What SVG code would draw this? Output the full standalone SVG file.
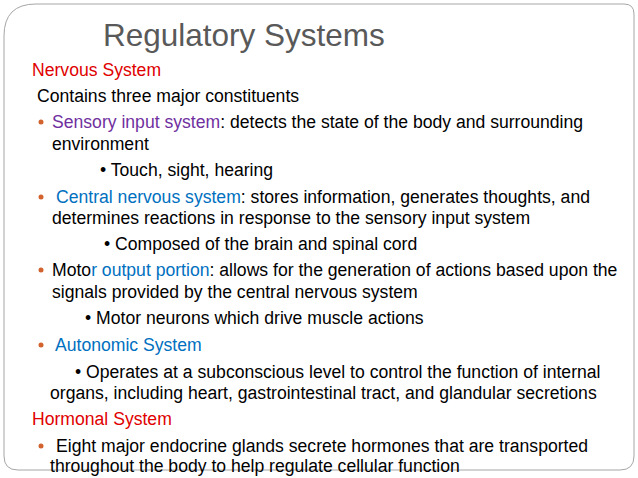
<svg xmlns="http://www.w3.org/2000/svg" width="638" height="478" viewBox="0 0 638 478">
<style>
text{font-family:"Liberation Sans",Arial,sans-serif;font-size:17.6px;fill:#000}
.r{fill:#e00000}.p{fill:#7030a0}.b{fill:#0070c0}
.t{font-size:31.5px;fill:#595959}
.d{fill:#d2622e}
</style>
<rect width="638" height="478" fill="#fff"/>
<path d="M36 4 H624 Q634 4 634 14 V456 Q634 470 620 470 H18 Q4 470 4 456 V36 Q4 4 36 4 Z" fill="none" stroke="#a6a6a6" stroke-width="1"/>
<g id="title"><text class="t" x="103" y="46">Regulatory Systems</text></g>
<g id="bullets">
<circle class="d" cx="41" cy="122" r="2.5"/>
<circle class="d" cx="41" cy="197" r="2.5"/>
<circle class="d" cx="41" cy="270" r="2.5"/>
<circle class="d" cx="41" cy="345" r="2.5"/>
<circle class="d" cx="41" cy="446" r="2.5"/>
</g>
<g id="body">
<text class="r" x="32" y="76">Nervous System</text>
<text x="37" y="102">Contains three major constituents</text>
<text x="52" y="128"><tspan class="p">Sensory input system</tspan>: detects the state of the body and surrounding</text>
<text x="52" y="150">environment</text>
<text x="100" y="176">• Touch, sight, hearing</text>
<text x="56" y="203"><tspan class="b">Central nervous system</tspan>: stores information, generates thoughts, and</text>
<text x="52" y="224">determines reactions in response to the sensory input system</text>
<text x="104" y="250">• Composed of the brain and spinal cord</text>
<text x="52" y="276">Moto<tspan class="b">r output portion</tspan>: allows for the generation of actions based upon the</text>
<text x="52" y="298">signals provided by the central nervous system</text>
<text x="85" y="324">• Motor neurons which drive muscle actions</text>
<text class="b" x="55" y="351">Autonomic System</text>
<text x="75" y="378">• Operates at a subconscious level to control the function of internal</text>
<text x="50" y="399">organs, including heart, gastrointestinal tract, and glandular secretions</text>
<text class="r" x="32" y="425">Hormonal System</text>
<text x="56" y="452">Eight major endocrine glands secrete hormones that are transported</text>
<text x="50" y="472">throughout the body to help regulate cellular function</text>
</g>
</svg>
